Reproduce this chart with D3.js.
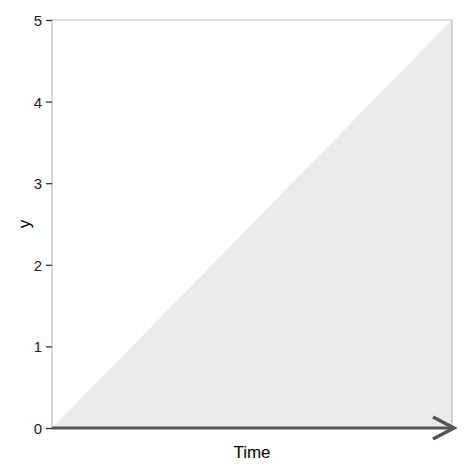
<!DOCTYPE html>
<html>
<head>
<meta charset="utf-8">
<script src="https://cdn.jsdelivr.net/npm/d3@7"></script>
<style>
  body { margin: 0; background: #fff; }
  text { font-family: "Liberation Sans", Arial, sans-serif; }
</style>
</head>
<body>
<div id="chart"></div>
<script>
// Data
const timeValues = [0, 5];
const yValues = [0, 5];
const yTicks = [0, 1, 2, 3, 4, 5];

const W = 474, H = 473;
const margin = { top: 20, right: 22, bottom: 45, left: 52 };
const width = W - margin.left - margin.right;
const height = H - margin.top - margin.bottom;

const svg = d3.select("#chart").append("svg")
  .attr("width", W).attr("height", H);

const g = svg.append("g")
  .attr("transform", `translate(${margin.left},${margin.top})`);

const x = d3.scaleLinear().domain(d3.extent(timeValues)).range([0, width]);
const y = d3.scaleLinear().domain([0, 5]).range([height, 0]);

// shaded area under the line
const area = d3.area()
  .x((d, i) => x(timeValues[i]))
  .y0(y(0))
  .y1((d) => y(d));

g.append("path")
  .datum(yValues)
  .attr("d", area)
  .attr("fill", "#ebebeb");

// panel border (left, top, right)
g.append("path")
  .attr("d", `M0,${height}V0H${width}V${height}`)
  .attr("fill", "none")
  .attr("stroke", "#bdbdbd")
  .attr("stroke-width", 1.2);

// y axis
const yAxis = d3.axisLeft(y)
  .tickValues(yTicks)
  .tickFormat(d3.format("d"))
  .tickSize(6)
  .tickPadding(4);
const ya = g.append("g").call(yAxis)
  .attr("font-family", null).attr("font-size", null);
ya.select(".domain").remove();
ya.selectAll(".tick line").attr("stroke", "#333").attr("stroke-width", 1.3);
ya.selectAll(".tick text")
  .attr("fill", "#1a1a1a")
  .attr("dy", "0.36em")
  .style("font-size", "15px");

// time arrow
const ax0 = x(timeValues[0]), ax1 = x(timeValues[1]) + 2, ay = y(0);
g.append("line")
  .attr("x1", ax0).attr("x2", ax1 - 1)
  .attr("y1", ay).attr("y2", ay)
  .attr("stroke", "#555").attr("stroke-width", 3);
g.append("path")
  .attr("d", `M${ax1 - 21},${ay - 11}L${ax1},${ay}L${ax1 - 21},${ay + 11}`)
  .attr("fill", "none")
  .attr("stroke", "#555")
  .attr("stroke-width", 3.5);

// labels
svg.append("text")
  .attr("x", margin.left + width / 2)
  .attr("y", 458)
  .attr("text-anchor", "middle")
  .style("font-size", "17px")
  .attr("fill", "#000")
  .text("Time");

svg.append("text")
  .attr("transform", `translate(30,${margin.top + height / 2}) rotate(-90)`)
  .attr("text-anchor", "middle")
  .style("font-size", "17px")
  .attr("fill", "#000")
  .text("y");
</script>
</body>
</html>
